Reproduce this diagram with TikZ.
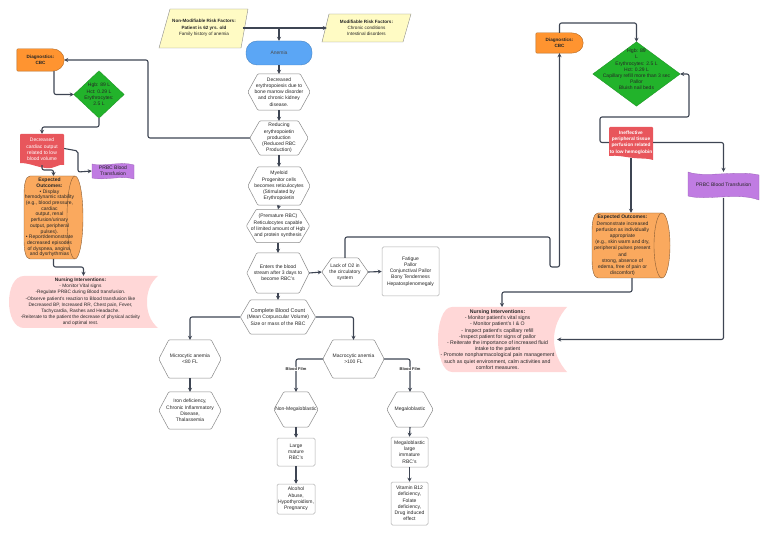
\documentclass[tikz,border=0pt]{standalone}
\usepackage{fontspec}
\setmainfont{Liberation Sans}
\usetikzlibrary{arrows.meta,calc,backgrounds}
\definecolor{linec}{HTML}{3E4553}
\definecolor{edgec}{HTML}{8A8A8A}
\definecolor{yell}{HTML}{FFFBC4}
\definecolor{bluef}{HTML}{5BA6F5}
\definecolor{orantab}{HTML}{FF9430}
\definecolor{greenf}{HTML}{22B32B}
\definecolor{redf}{HTML}{E8565C}
\definecolor{purp}{HTML}{C07CE2}
\definecolor{cyl}{HTML}{FAA95E}
\definecolor{pinkf}{HTML}{FFD7D7}
\newcommand{\fs}[2]{\fontsize{#1}{#2}\selectfont}
\tikzset{
  lab/.style={inner sep=0pt,align=center,text=black!85,font=\fs{5}{6.2}},
  conn/.style={draw=linec,line width=1.1pt,rounded corners=2pt,-{Stealth[length=4pt,width=4pt]}},
  hexs/.style={draw=edgec,line width=.5pt,fill=white},
  rbox/.style={lab,draw=edgec!70,line width=.5pt,rounded corners=1.5pt,fill=white},
  yellows/.style={fill=yell,draw=black!45,line width=.4pt},
  tabs/.style={fill=orantab,draw=orantab!70!black,line width=.4pt},
  greens/.style={fill=greenf,draw=greenf!80!black,line width=.3pt},
  reds/.style={fill=redf,draw=redf!80!black,line width=.3pt},
  purps/.style={fill=purp,draw=purp!80!black,line width=.3pt},
  cyls/.style={fill=cyl,draw=cyl!55!black,line width=.4pt},
  pinks/.style={fill=pinkf},
  filmlab/.style={fill=white,inner sep=.5pt,font=\fs{4}{5}\bfseries,text=black!85},
}
\newcommand{\HexN}[6]{%
  \node[lab,minimum width=#4pt,minimum height=#5pt] (#1) at (#2,#3) {#6};
  \begin{scope}[on background layer]
    \draw[hexs,rounded corners=1pt] (#1.west) -- ($(#1.north west)+(10,0)$) -- ($(#1.north east)+(-10,0)$) -- (#1.east) -- ($(#1.south east)+(-10,0)$) -- ($(#1.south west)+(10,0)$) -- cycle;
  \end{scope}}
\newcommand{\DiaN}[6]{%
  \node[lab,minimum width=#4pt,minimum height=#5pt] (#1) at (#2,#3) {#6};
  \begin{scope}[on background layer]
    \draw[greens] (#1.west) -- (#1.north) -- (#1.east) -- (#1.south) -- cycle;
  \end{scope}}
\newcommand{\TabN}[6]{%
  \node[lab,font=\fs{4.6}{6.2},minimum width=#4pt,minimum height=#5pt] (#1) at (#2,#3) {#6};
  \begin{scope}[on background layer]
    \draw[tabs] ($(#1.north west)+(1,0)$) -- ($(#1.north east)+(-12,0)$) .. controls ($(#1.north east)+(-5,0)$) and ($(#1.east)+(0,-6)$) .. (#1.east) .. controls ($(#1.east)+(0,6)$) and ($(#1.south east)+(-5,0)$) .. ($(#1.south east)+(-12,0)$) -- ($(#1.south west)+(1,0)$) -- ($(#1.south west)+(0,-1)$) -- ($(#1.north west)+(0,1)$) -- cycle;
  \end{scope}}
\begin{document}
\begin{tikzpicture}[x=1pt,y=-1pt]
\useasboundingbox (0,0) rectangle (768,534);

% risk factors
\node[lab,font=\fs{4.6}{6.2},minimum width=77pt,minimum height=38pt] (nm) at (204,28) {\textbf{Non-Modifiable Risk Factors:}\\\textbf{Patient is 62 yrs. old}\\Family history of anemia};
\node[lab,font=\fs{4.6}{6.2},minimum width=79pt,minimum height=28pt] (mod) at (366.5,28) {\textbf{Modifiable Risk Factors:}\\Chronic conditions\\Intestinal disorders};
\begin{scope}[on background layer]
  \draw[yellows] (170,9) -- (248,9) -- (241,48) -- (159,48) -- cycle;
  \draw[yellows] (329,14) -- (411,14) -- (403,42) -- (322,42) -- cycle;
\end{scope}
\coordinate (j) at (279,28);

% central chain
\node[lab,minimum width=66pt,minimum height=24pt,text=black!70,rounded corners=11pt,fill=bluef,draw=bluef!80!black,line width=.4pt] (an) at (279,53) {Anemia};
\HexN{h1}{279}{92}{62}{36}{Decreased\\erythropoiesis due to\\bone marrow disorder\\and chronic kidney\\disease.}
\HexN{h2}{279}{138}{58}{34}{Reducing\\erythropoietin\\production\\(Reduced RBC\\Production)}
\HexN{h3}{279}{186}{62}{38}{Myeloid\\Progenitor cells\\becomes reticulocytes\\(Stimulated by\\Erythropoietin}
\HexN{h4}{278}{226}{63}{33}{(Premature RBC)\\Reticulocytes capable\\of limited amount of Hgb\\and protein synthesis}
\HexN{h5}{278}{273}{62}{40}{Enters the blood\\stream after 3 days to\\become RBC's}
\HexN{lack}{345}{272}{46}{28}{Lack of O2 in\\the circulatory\\system}
\node[rbox,minimum width=57pt,minimum height=49pt] (sym) at (410.5,271.5) {Fatigue\\Pallor\\Conjunctival Pallor\\Bony Tenderness\\Hepatosplenomegaly};
\HexN{cbc}{278}{317}{75}{34}{\fs{5.4}{6.4}Complete Blood Count\\(Mean Corpuscular Volume)\\Size or mass of the RBC}
\HexN{mic}{190}{359}{62}{38}{Microcytic anemia\\<80 FL}
\HexN{iron}{190}{410.5}{62}{37}{Iron deficiency,\\Chronic Inflammatory\\Disease,\\Thalassemia}
\HexN{mac}{353.5}{359}{61}{38}{Macrocytic anemia\\>100 FL}
\HexN{nonm}{296}{409.5}{44}{35}{Non-Megaloblastic}
\HexN{meg}{410}{409.5}{46}{35}{Megaloblastic}
\node[rbox,minimum width=38pt,minimum height=28pt] (lm) at (296,452) {Large\\mature\\RBC's};
\node[rbox,minimum width=38pt,minimum height=30pt] (alc) at (296,499) {Alcohol\\Abuse,\\Hypothyroidism,\\Pregnancy};
\node[rbox,minimum width=37pt,minimum height=30pt] (ml) at (409.5,452) {Megaloblastic\\large\\immature\\RBC's};
\node[rbox,minimum width=37pt,minimum height=43pt] (vit) at (409.5,503.5) {Vitamin B12\\deficiency,\\Folate\\deficiency,\\Drug induced\\effect};

% left column
\TabN{ld}{40.5}{60}{47}{22}{\textbf{Diagnostics:}\\\textbf{CBC}}
\DiaN{ldia}{99}{94.5}{50}{47}{Hgb: 89 L\\Hct: 0.29 L\\Erythrocytes:\\2.5 L}
\node[lab,text=white,minimum width=44pt,minimum height=31pt] (lred) at (42,149.5) {Decreased\\cardiac output\\related to low\\blood volume};
\node[lab,minimum width=42pt,minimum height=16pt] (lpur) at (113,171) {PRBC Blood\\Transfusion};
\node[lab,font=\fs{5}{5.7},minimum width=51pt,minimum height=83pt] (lcyl) at (49.5,217.5) {\textbf{Expected}\\\textbf{Outcomes:}\\• Display\\hemodynamic stability\\(e.g., blood pressure,\\cardiac\\output, renal\\perfusion/urinary\\output, peripheral\\pulses).\\• Report/demonstrate\\decreased episodes\\of dyspnea, angina,\\and dysrhythmias};
\node[lab,font=\fs{4.8}{6.2},minimum width=143pt,minimum height=52pt] (lpink) at (80.5,302) {\textbf{Nursing Interventions:}\\- Monitor Vital signs\\-Regulate PRBC during Blood transfusion.\\-Observe patient's reaction to  Blood transfusion like\\Decreased BP, Increased RR, Chest pain, Fever,\\Tachycardia, Rashes and Headache.\\-Reiterate to the patient the decrease of physical activity\\and optimal rest.};
\begin{scope}[on background layer]
  \fill[redf] (20,135) to[out=-90,in=180,looseness=0] (21,134) -- (63,134) -- (64,135) -- (64,165) .. controls (58,163.5) and (56,169) .. (46,168) .. controls (36,167) and (30,163) .. (20,163) -- cycle;
  \draw[purps] (92,164) .. controls (102,167) and (122,161) .. (134,165) -- (134,179) .. controls (122,175) and (104,181) .. (92,178) -- cycle;
  \draw[cyls] (30,176) -- (75,176) .. controls (79.4,176) and (83,194.5) .. (83,217.5) .. controls (83,240.5) and (79.4,259) .. (75,259) -- (30,259) .. controls (25.5,259) and (24,250) .. (24,240) -- (24,195) .. controls (24,185) and (25.5,176) .. (30,176) -- cycle;
  \draw[cyls,fill=none] (75,176) .. controls (70.6,176) and (67,194.5) .. (67,217.5) .. controls (67,240.5) and (70.6,259) .. (75,259);
  \fill[pinks] (24,276) -- (158,276) .. controls (150,283) and (147,292) .. (147,302) .. controls (147,312) and (150,321) .. (158,328) -- (24,328) .. controls (14,328) and (9,315) .. (9,302) .. controls (9,289) and (14,276) .. (24,276) -- cycle;
\end{scope}

% right column
\TabN{rd}{559.5}{43}{47}{20}{\textbf{Diagnostics:}\\\textbf{CBC}}
\DiaN{rdia}{636.5}{74}{87}{64}{\fs{5.2}{6.3}Hgb: 89\\L\\Erythrocytes: 2.5 L\\Hct: 0.29 L\\Capillary refill more than 3 sec\\Pallor\\Bluish nail beds\\[3pt]~}
\node[lab,text=white,font=\fs{4.8}{6.2},minimum width=44pt,minimum height=31pt] (rred) at (631,142.5) {\textbf{Ineffective}\\\textbf{peripheral tissue}\\\textbf{perfusion related}\\\textbf{to low hemoglobin}};
\node[lab,minimum width=71pt,minimum height=26pt] (rpur) at (723.5,185) {PRBC Blood Transfusion};
\node[lab,minimum width=61pt,minimum height=65pt] (rcyl) at (622.5,245.5) {\textbf{Expected Outcomes:}\\Demonstrate increased\\perfusion as individually\\appropriate\\(e.g., skin warm and dry,\\peripheral pulses present\\and\\strong, absence of\\edema, free of pain or\\discomfort)};
\node[lab,font=\fs{5.2}{6.2},minimum width=119pt,minimum height=65pt] (rpink) at (497.5,339.5) {\textbf{Nursing Interventions:}\\- Monitor patient's vital signs\\- Monitor patient's I \& O\\- Inspect patient's capillary refill\\-Inspect patient for signs of pallor\\- Reiterate the importance of increased fluid\\intake to the patient\\- Promote nonpharmacological pain management\\such as quiet environment, calm activities and\\comfort measures.};
\begin{scope}[on background layer]
  \fill[redf] (609,128) -- (610,127) -- (652,127) -- (653,128) -- (653,160) .. controls (647,158) and (644,159) .. (634,158) .. controls (624,157) and (618,155) .. (609,156) -- cycle;
  \draw[purps] (688,172) .. controls (704,178) and (738,170) .. (759,175) -- (759,200) .. controls (738,192) and (706,201) .. (688,196) -- cycle;
  \draw[cyls] (598,213) -- (662,213) .. controls (666.4,213) and (670,227.5) .. (670,245.5) .. controls (670,263.5) and (666.4,278) .. (662,278) -- (598,278) .. controls (594,278) and (592,270) .. (592,260) -- (592,231) .. controls (592,221) and (594,213) .. (598,213) -- cycle;
  \draw[cyls,fill=none] (662,213) .. controls (657.6,213) and (654,227.5) .. (654,245.5) .. controls (654,263.5) and (657.6,278) .. (662,278);
  \fill[pinks] (452,307) -- (567,307) .. controls (559,316) and (554,327) .. (554,339.5) .. controls (554,352) and (559,363) .. (567,372) -- (452,372) .. controls (443,372) and (438,356) .. (438,339.5) .. controls (438,323) and (443,307) .. (452,307) -- cycle;
\end{scope}

% connectors: centre
\draw[conn] (nm.east) -- (mod.west);
\draw[conn] (j) -- (an.north);
\draw[conn] (an.south) -- (h1.north);
\draw[conn] (h1.south) -- (h2.north);
\draw[conn] (h2.south) -- (h3.north);
\draw[conn] (h3.south) -- (h4.north);
\draw[conn] (h4.south) -- (h5.north);
\draw[conn] (h5.south) -- (cbc.north);
\draw[conn] (h5.east) -- (lack.west);
\draw[conn] (lack.east) -- (sym.west);
\draw[conn] (cbc.west) -| (mic.north);
\draw[conn] (cbc.east) -| (mac.north);
\draw[conn] (mic.south) -- (iron.north);
\draw[conn] (mac.west) -| (nonm.north) node[pos=.65,filmlab] (bf1) {Blood Film};
\draw[conn] (mac.east) -| (meg.north) node[pos=.65,filmlab] (bf2) {Blood Film};
\draw[conn] (nonm.south) -- (lm.north);
\draw[conn] (lm.south) -- (alc.north);
\draw[conn] (meg.south) -- (ml.north);
\draw[conn] (ml.south) -- (vit.north);

% connectors: left
\draw[conn] (h2.west) -- (148,138) -- (148,60) -- (ld.east);
\draw[conn] ([xshift=13.5pt]ld.south) |- (ldia.west);
\draw[conn] (ldia.south) -- (99,127) -- (42,127) -- (lred.north);
\draw[conn] ([yshift=1pt]lred.east) -- (78,151) -- (78,172) -- (lpur.west);
\draw[conn] (lred.south) -- (42,170) -- (53.5,170) -- (53.5,176);
\draw[conn] (53.5,259) -- (53.5,267) -- (83.5,267) -- ([xshift=3pt]lpink.north);

% connectors: right
\draw[conn] (lack.north) -- (345,237) -- (550,237) -- (550,267) -- (559.5,267) -- (rd.south);
\draw[conn] (rd.north) -- (559.5,23) -- (636.5,23) -- (rdia.north);
\draw[conn] (rred.west) -- (600,142.5) -- (600,117) -- (689,117) -- (689,74) -- (rdia.east);
\draw[conn] (rred.east) -- (723.5,142.5) -- (rpur.north);
\draw[conn] (rred.south) -- ([xshift=8.5pt]rcyl.north);
\draw[conn] ([xshift=9.5pt]rcyl.south) -- (632,292) -- (502,292) -- (502,307);
\draw[conn] (723.5,198) -- (723.5,339.5) -- (rpink.east);
\end{tikzpicture}
\end{document}
